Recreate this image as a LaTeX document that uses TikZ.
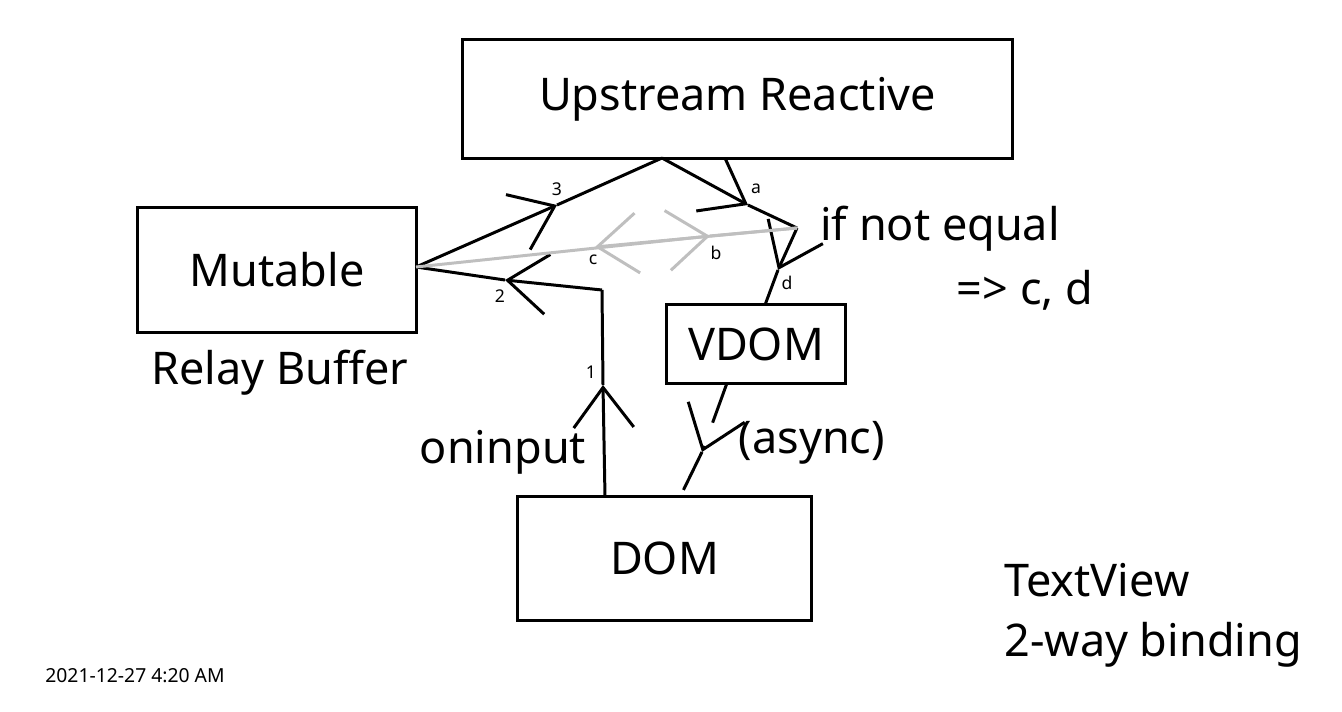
\documentclass[tikz,border=0pt]{standalone}
\usepackage{fontspec}
\setmainfont{Noto Sans}
\usetikzlibrary{arrows.meta, positioning}
\tikzset{
  box/.style={rectangle, draw=black, line width=0.85pt, inner sep=0pt},
  big/.style={font=\fontsize{12.8pt}{15pt}\selectfont},
  tag/.style={font=\fontsize{5pt}{6pt}\selectfont},
  wire/.style={line width=0.85pt},
  barb/.style={-{Straight Barb[length=4mm,width=6mm]}},
}
\begin{document}
\begin{tikzpicture}[x=0.01cm,y=-0.01cm]
\useasboundingbox (0,0) rectangle (1342,712);
% Boxes
\node (up) [box, big, minimum width=5.49cm, minimum height=1.18cm] at (737.5,99) {Upstream Reactive};
\node (mut) [box, big, minimum width=2.78cm, minimum height=1.24cm] at (277,270) {Mutable};
\node (vdom) [box, big, minimum width=1.78cm, minimum height=0.78cm] at (756,344) {VDOM};
\node (dom) [box, big, minimum width=2.93cm, minimum height=1.23cm] at (664.5,558.5) {DOM};

% Bends
\coordinate (top) at (662,158);
\coordinate (neq) at (797,228);
\coordinate (left) at (416,267);
\coordinate (bend) at (602,290);
\coordinate (t3) at (557,205);
\coordinate (ta) at (748,205);
\coordinate (td) at (778,270);
\coordinate (t1) at (603,385);
\coordinate (t2) at (505,280);
\coordinate (tb) at (710,236);
\coordinate (tc) at (595,247);
\coordinate (vd) at (727,383);
\coordinate (dd) at (680,497);
\coordinate (tx) at (702,452);

% Arrows
\draw [wire, barb] (left) -- (t3);
\draw [wire] (t3) -- (top);
\draw [wire, barb] (top) -- (ta);
\draw [wire] (ta) -- (neq);
\draw [wire, barb] (neq) -- (td);
\draw [wire] (td) -- (765,305);
\draw [wire, barb] (605,497) -- (t1);
\draw [wire] (t1) -- (bend);
\draw [wire, barb] (bend) -- (t2);
\draw [wire] (t2) -- (left);
\draw [wire, gray!50, barb] (left) -- (tb);
\draw [wire, gray!50] (tb) -- (neq);
\draw [wire, gray!50, barb] (neq) -- (tc);
\draw [wire, dash pattern=on 12pt off 7pt, barb] (vd) -- (tx);
\draw [wire, dash pattern=on 12pt off 7pt] (tx) -- (dd);

% Labels
\node [tag] at (557,189) {3};
\node [tag] at (756,189) {a};
\node [tag] at (716,253) {b};
\node [tag] at (593,260) {c};
\node [tag] at (787,283) {d};
\node [tag] at (500,296) {2};
\node [tag] at (591,372) {1};
\node [big] at (940,229) {if not equal};
\node [big] at (1025,290) {=> c, d};
\node [big] at (280,373) {Relay Buffer};
\node [big] at (503,452) {oninput};
\node [big] at (812,443) {(async)};
\node [big, anchor=west] at (992,580) {TextView};
\node [big, anchor=west] at (992,645) {2-way binding};
\node [font=\fontsize{5.5pt}{6pt}\selectfont] at (135,676) {2021-12-27 4:20 AM};
\end{tikzpicture}
\end{document}
